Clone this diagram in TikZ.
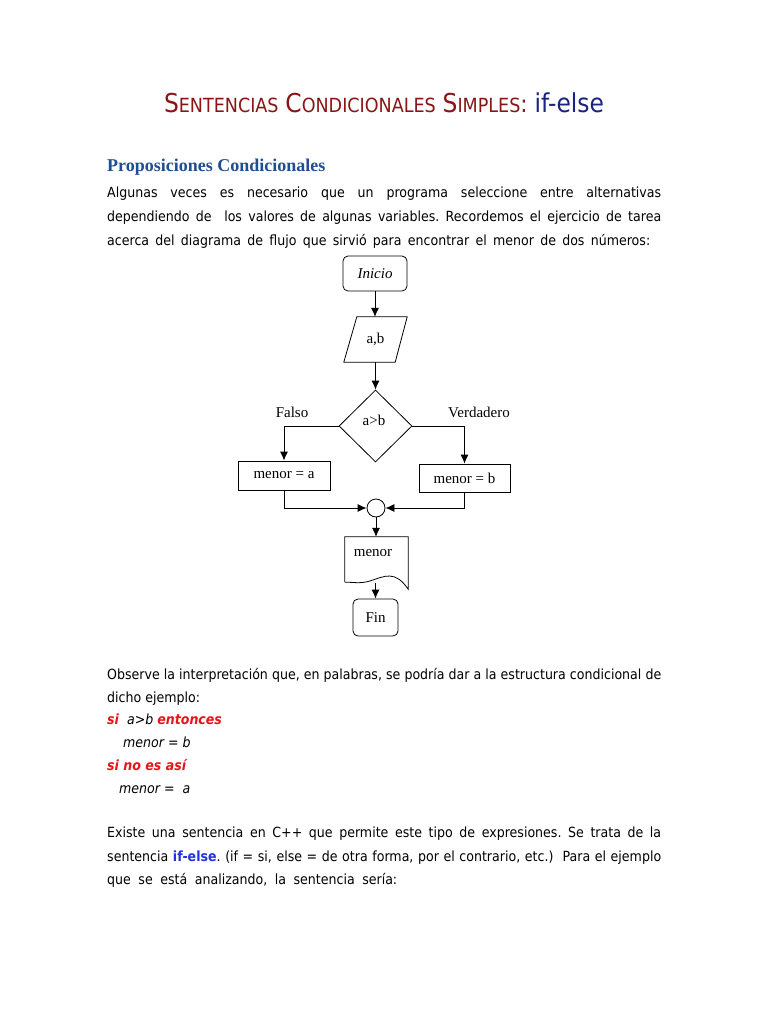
\documentclass[tikz,border=0pt]{standalone}
\usepackage{fontspec}
\setmainfont{Liberation Serif}
\newfontfamily\tah[FakeStretch=0.9]{DejaVu Sans}
\usetikzlibrary{arrows.meta,shapes.geometric}
\definecolor{titlered}{HTML}{8B1515}
\definecolor{titleblue}{HTML}{1A237E}
\definecolor{headblue}{HTML}{1F4F8F}
\definecolor{kwred}{HTML}{E8141B}
\definecolor{kwblue}{HTML}{2233DD}
\newcommand{\tsc}[2]{{\fontsize{26}{30}\selectfont #1}{\fontsize{19.5}{24}\selectfont #2}}
\frenchspacing
\tikzset{
  body/.style={anchor=base west, inner sep=0, font=\tah\fontsize{14}{16}\selectfont},
  fc/.style={draw, line width=0.8pt, font=\fontsize{15}{17}\selectfont, inner sep=0},
  arr/.style={line width=0.8pt, -{Latex[length=9pt,width=8pt]}},
  ln/.style={line width=0.8pt},
}
\begin{document}
\begin{tikzpicture}[x=1pt,y=-1pt]
\useasboundingbox (0,0) rectangle (768,1024);
\fill[white] (0,0) rectangle (768,1024);
% title
\node[anchor=base, inner sep=0, font=\tah\fontsize{24}{28}\selectfont] (title) at (384,113)
  {\color{titlered}\tsc{S}{ENTENCIAS} \tsc{C}{ONDICIONALES} \tsc{S}{IMPLES}: {\fontsize{26}{30}\selectfont\color{titleblue}if-else}};
\node[anchor=base west, inner sep=0, font=\bfseries\fontsize{18}{21}\selectfont, text=headblue] (head) at (107,172) {Proposiciones Condicionales};
\node[body] (p1) at (107,198) {\makebox[554pt][s]{Algunas veces es necesario que un programa seleccione entre alternativas}};
\node[body] (p2) at (107,221.5) {\makebox[554pt][s]{dependiendo de \ los valores de algunas variables. Recordemos el ejercicio de tarea}};
\node[body] (p3) at (107,245) {\makebox[543pt][s]{acerca del diagrama de flujo que sirvió para encontrar el menor de dos números:}};

% flowchart
\node[fc, rounded corners=5pt, minimum width=64pt, minimum height=35pt, font=\itshape\fontsize{15}{17}\selectfont] (ini) at (375,273.5) {Inicio};
\node[inner sep=0, minimum width=63pt, minimum height=45pt, font=\fontsize{15}{17}\selectfont] (ab) at (375.5,339.5) {a,b};
\draw[ln] ([xshift=13pt]ab.north west) -- (ab.north east) -- ([xshift=-12pt]ab.south east) -- (ab.south west) -- cycle;
\node[fc, diamond, minimum width=73pt, minimum height=72pt] (dec) at (375.5,426) {};
\node[anchor=base, inner sep=0, font=\fontsize{15}{17}\selectfont] (decl) at (374,425) {a>b};
\node[anchor=base, inner sep=0, font=\fontsize{15}{17}\selectfont] (fl) at (292,417) {Falso};
\node[anchor=base, inner sep=0, font=\fontsize{15}{17}\selectfont] (vl) at (479,417) {Verdadero};
\node[fc, minimum width=92pt, minimum height=29pt] (ma) at (284,475.5) {menor = a};
\node[fc, minimum width=91pt, minimum height=28pt] (mb) at (464.5,478) {menor = b};
\node[fc, circle, minimum size=18pt] (c) at (376,508) {};
\node[inner sep=0, minimum width=63pt, minimum height=45pt] (doc) at (376.5,559.5) {};
\draw[ln] (doc.south west) |- (doc.north east) -- ([yshift=-7pt]doc.south east)
  .. controls (395,570) and (385,576) .. (370,581) .. controls (360,584) and (352,582) .. (doc.south west);
\node[anchor=base, inner sep=0, font=\fontsize{15}{17}\selectfont] (docl) at (373,556) {menor};
\node[fc, rounded corners=5pt, minimum width=45pt, minimum height=37pt] (fin) at (375.5,617.5) {Fin};

\draw[arr] (ini) -- (ini.south |- ab.north);
\draw[arr] (ab.south -| dec.north) -- (dec.north);
\draw[arr] (dec.west) -| (ma.north);
\draw[arr] (dec.east) -| (mb.north);
\draw[arr] (ma.south) |- (c.west);
\draw[arr] (mb.south) |- (c.east);
\draw[arr] (c.south) -- (c.south |- doc.north);
\draw[arr] ([yshift=-1pt]doc.south -| fin.north) -- (fin.north);

% lower text
\node[body] (o1) at (107,679) {\makebox[554pt][s]{Observe la interpretación que, en palabras, se podría dar a la estructura condicional de}};
\node[body] (o2) at (107,702) {dicho ejemplo:};
\node[body] (o3) at (107,724) {{\color{kwred}\bfseries\itshape si}\ \ \itshape a>b {\color{kwred}\bfseries entonces}};
\node[body] (o4) at (123,747) {\itshape menor = b};
\node[body] (o5) at (107,770) {\color{kwred}\bfseries\itshape si no es así};
\node[body] (o6) at (119,793) {\itshape menor = \ a};
\node[body] (e1) at (107,837) {\makebox[554pt][s]{Existe una sentencia en C++ que permite este tipo de expresiones. Se trata de la}};
\node[body] (e2) at (107,861) {\makebox[554pt][s]{sentencia {\color{kwblue}\bfseries if-else}. (if = si, else = de otra forma, por el contrario, etc.) \ Para el ejemplo}};
\node[body] (e3) at (107,884) {\makebox[290pt][s]{que se está analizando, la sentencia sería:}};
\end{tikzpicture}
\end{document}
